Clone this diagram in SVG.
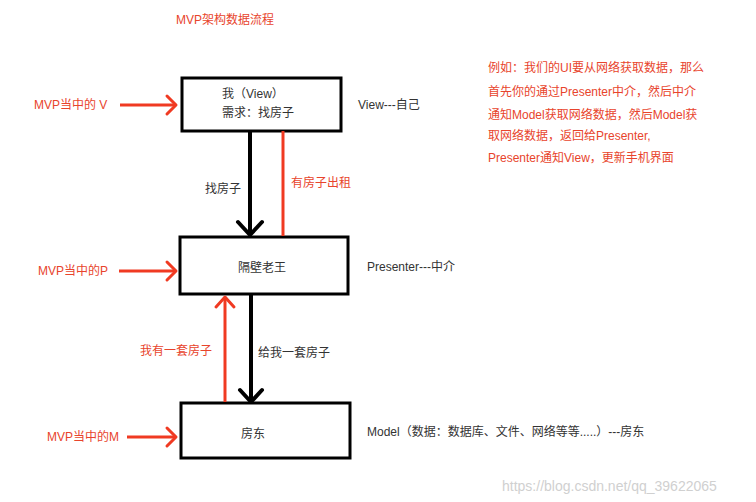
<svg xmlns="http://www.w3.org/2000/svg" width="756" height="502" viewBox="0 0 756 502">
<style>
text{font-family:"Liberation Sans","Noto Sans CJK SC",sans-serif;font-size:12px;fill:#333}
.r{fill:#e8442c}
.box{fill:#fff;stroke:#000;stroke-width:3}
.bl{stroke:#000;stroke-width:4;fill:none}
.rl{stroke:#f03a22;stroke-width:3;fill:none}
.ah{fill:none;stroke-linecap:round;stroke-linejoin:round}
</style>
<rect width="756" height="502" fill="#fff"/>
<text class="r" x="176" y="24">MVP架构数据流程</text>
<g id="view"><rect class="box" x="182" y="78" width="159" height="53"/>
<text x="222" y="98">我（View）</text><text x="222" y="117">需求：找房子</text></g>
<g id="presenter"><rect class="box" x="180" y="237" width="168" height="57"/>
<text x="238" y="272">隔壁老王</text></g>
<g id="model"><rect class="box" x="181" y="403" width="169" height="55"/>
<text x="241" y="438">房东</text></g>
<g id="connectors">
<path class="bl" d="M250 131V235"/><path class="bl ah" d="M238 222L250 235L262 222"/>
<path class="rl" d="M283 131V236"/>
<path class="rl" d="M225 402V298"/><path class="rl ah" d="M216 307L225 297L234 307"/>
<path class="bl" d="M251 294V402"/><path class="bl ah" d="M240 390L251 402L262 390"/>
<path class="rl" d="M120 105H176"/><path class="rl ah" d="M167 96L176 105L167 114"/>
<path class="rl" d="M119 271H176"/><path class="rl ah" d="M167 262L176 271L167 280"/>
<path class="rl" d="M127 437H176"/><path class="rl ah" d="M167 428L176 437L167 446"/>
</g>
<text x="205" y="193">找房子</text>
<text class="r" x="291" y="187">有房子出租</text>
<text class="r" x="140" y="355">我有一套房子</text>
<text x="258" y="357">给我一套房子</text>
<text class="r" x="34" y="109">MVP当中的 V</text>
<text class="r" x="38" y="275">MVP当中的P</text>
<text class="r" x="47" y="441">MVP当中的M</text>
<text x="358" y="109">View---自己</text>
<text x="367" y="271">Presenter---中介</text>
<text x="367" y="436">Model（数据：数据库、文件、网络等等.....）---房东</text>
<text style="fill:#d0d0d0;font-size:14px" x="502" y="491">https://blog.csdn.net/qq_39622065</text>
<text class="r" x="488" y="72">例如：我们的UI要从网络获取数据，那么</text>
<text class="r" x="488" y="96">首先你的通过Presenter中介，然后中介</text>
<text class="r" x="488" y="119">通知Model获取网络数据，然后Model获</text>
<text class="r" x="488" y="140">取网络数据，返回给Presenter,</text>
<text class="r" x="488" y="162">Presenter通知View，更新手机界面</text>
</svg>
